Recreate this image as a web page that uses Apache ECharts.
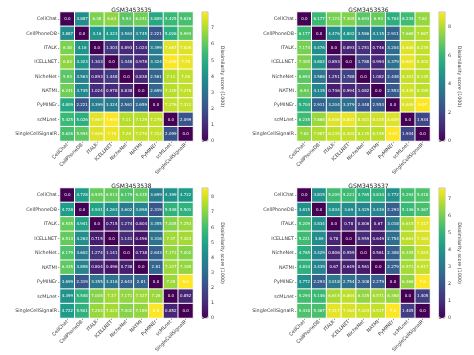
<!DOCTYPE html>
<html><head><meta charset="utf-8">
<script src="https://cdn.jsdelivr.net/npm/echarts@6/dist/echarts.min.js"></script>
<style>html,body{margin:0;padding:0;background:#fff}#c{width:474px;height:355px}</style>
</head><body><div id="c"></div>
<script>
const methods = ["CellChat","CellPhoneDB","ITALK","ICELLNET","NicheNet","NATMI","PyMINEr","scMLnet","SingleCellSignalR"];
const titles = ["GSM3453535","GSM3453536","GSM3453538","GSM3453537"];

const gsm535 = [
 [0.0,3.887,6.38,6.63,5.93,6.241,4.809,5.425,5.626],
 [3.887,0.0,4.16,4.323,3.563,3.745,2.221,5.026,5.994],
 [6.38,4.16,0.0,1.303,0.893,1.024,3.399,7.667,7.626],
 [6.63,4.323,1.303,0.0,1.448,0.978,3.324,7.999,7.78],
 [5.93,3.563,0.893,1.448,0.0,0.838,2.561,7.11,7.26],
 [6.241,3.745,1.024,0.978,0.838,0.0,2.659,7.129,7.276],
 [4.809,2.221,3.399,3.324,2.561,2.659,0.0,7.276,7.312],
 [5.425,5.026,7.667,7.999,7.11,7.129,7.276,0.0,2.099],
 [5.626,5.994,7.626,7.78,7.26,7.276,7.312,2.099,0.0]
];
const gsm536 = [
 [0.0,6.177,7.174,7.305,6.693,6.93,5.704,6.235,7.62],
 [6.177,0.0,4.476,4.802,3.586,4.115,2.911,7.668,7.987],
 [7.174,4.476,0.0,0.893,1.251,0.746,3.204,8.606,8.235],
 [7.305,4.802,0.893,0.0,1.788,0.994,3.379,8.801,8.302],
 [6.693,3.586,1.251,1.788,0.0,1.082,2.448,8.301,8.135],
 [6.93,4.115,0.746,0.994,1.082,0.0,2.553,8.435,8.195],
 [5.704,2.911,3.204,3.379,2.448,2.553,0.0,8.609,9.07],
 [6.235,7.668,8.606,8.801,8.301,8.435,8.609,0.0,1.934],
 [7.62,7.987,8.235,8.302,8.135,8.195,9.07,1.934,0.0]
];
const gsm538 = [
 [0.0,4.728,6.545,6.513,6.179,6.435,3.699,4.399,4.722],
 [4.728,0.0,4.941,4.263,3.602,3.898,2.319,5.548,5.501],
 [6.545,4.941,0.0,0.715,1.274,0.804,3.355,7.005,7.253],
 [6.513,4.263,0.715,0.0,1.141,0.496,3.316,7.37,7.423],
 [6.179,3.602,1.274,1.141,0.0,0.738,2.643,7.171,7.002],
 [6.435,3.898,0.804,0.496,0.738,0.0,2.81,7.327,7.189],
 [3.699,2.319,3.355,3.316,2.643,2.81,0.0,7.28,8.6],
 [4.399,5.548,7.005,7.37,7.171,7.327,7.28,0.0,0.852],
 [4.722,5.501,7.253,7.423,7.002,7.189,8.6,0.852,0.0]
];
const gsm537 = [
 [0.0,3.815,5.209,5.221,4.765,4.834,3.772,5.294,5.418],
 [3.815,0.0,3.834,3.69,3.429,3.439,2.293,5.146,5.367],
 [5.209,3.834,0.0,0.78,0.806,0.67,3.018,6.615,7.317],
 [5.221,3.69,0.78,0.0,0.959,0.649,2.754,6.864,7.164],
 [4.765,3.429,0.806,0.959,0.0,0.561,2.308,6.335,7.024],
 [4.834,3.439,0.67,0.649,0.561,0.0,2.279,6.571,6.917],
 [3.772,2.293,3.018,2.754,2.308,2.279,0.0,6.368,7.6],
 [5.294,5.146,6.615,6.864,6.335,6.571,6.368,0.0,1.405],
 [5.418,5.367,7.317,7.164,7.024,6.917,7.6,1.405,0.0]
];
const cbTicks535 = [0,1,2,3,4,5,6,7];
const cbTicks536 = [0,2,4,6,8];
const cbTicks538 = [0,1,2,3,4,5,6,7,8];
const cbTicks537 = [0,1,2,3,4,5,6,7];

const matrices = [gsm535, gsm536, gsm538, gsm537];
const cbTicks = [cbTicks535, cbTicks536, cbTicks538, cbTicks537];
const viridis = ['#440154','#482878','#3e4989','#31688e','#26828e','#1f9e89','#35b779','#6ece58','#b5de2b','#fde725'];
const FONT = 'DejaVu Sans';
const TXT = '#3a3a3a';

const pos = [
  {l:60, t:12, w:133, h:129},
  {l:297, t:12, w:133, h:129},
  {l:60, t:188, w:133, h:130},
  {l:297, t:188, w:133, h:130}
];

const grid=[], xAxis=[], yAxis=[], series=[], visualMap=[], title=[];
matrices.forEach((m, k) => {
  const p = pos[k];
  const mx = Math.max(...m.flat());
  const data = [];
  m.forEach((row, i) => row.forEach((v, j) => data.push([j, i, v])));
  grid.push({left:p.l, top:p.t, width:p.w, height:p.h, containLabel:false});
  xAxis.push({type:'category', gridIndex:2*k, data:methods, position:'bottom',
    axisLine:{show:false}, axisTick:{show:true, length:2, alignWithLabel:true, lineStyle:{color:TXT, width:0.5}},
    splitLine:{show:false},
    axisLabel:{rotate:45, fontSize:4.8, color:TXT, fontFamily:FONT, margin:3, interval:0}});
  yAxis.push({type:'category', gridIndex:2*k, data:methods, inverse:true,
    axisLine:{show:false}, axisTick:{show:true, length:2, alignWithLabel:true, lineStyle:{color:TXT, width:0.5}},
    splitLine:{show:false},
    axisLabel:{fontSize:4.8, color:TXT, fontFamily:FONT, margin:3, interval:0}});
  series.push({type:'heatmap', xAxisIndex:2*k, yAxisIndex:2*k, data:data,
    itemStyle:{borderColor:'#fff', borderWidth:1},
    label:{show:true, color:'#fff', fontSize:4, fontFamily:FONT,
      formatter: pr => pr.value[2] === 0 ? '0.0' : String(pr.value[2])},
    emphasis:{disabled:true}});
  const cbx = p.l + 142;
  visualMap.push({type:'continuous', seriesIndex:k, min:0, max:mx, calculable:false,
    left:cbx, top:p.t, itemWidth:6, itemHeight:p.h, text:['',''], showLabel:false,
    inRange:{color:viridis}, padding:0, hoverLink:false});
  grid.push({left:cbx, top:p.t, width:6, height:p.h, show:true, borderColor:'#555', borderWidth:0.4, backgroundColor:'transparent'});
  xAxis.push({type:'value', gridIndex:2*k+1, show:false, min:0, max:1});
  yAxis.push({type:'value', gridIndex:2*k+1, position:'right', min:0, max:mx,
    axisLine:{show:false}, splitLine:{show:false},
    axisTick:{show:true, length:2, customValues:cbTicks[k], lineStyle:{color:TXT, width:0.5}},
    axisLabel:{fontSize:4.8, color:TXT, fontFamily:FONT, margin:3, customValues:cbTicks[k]},
    name:'Dissimilarity score (1000)', nameLocation:'middle', nameRotate:-90, nameGap:12,
    nameTextStyle:{fontSize:4.8, color:TXT, fontFamily:FONT}});
  title.push({text:titles[k], left:p.l + p.w/2, top:p.t - 10, textAlign:'center',
    textStyle:{fontSize:6, fontWeight:'normal', color:'#222', fontFamily:FONT}});
});

const chart = echarts.init(document.getElementById('c'), null, {renderer:'canvas'});
chart.setOption({animation:false, backgroundColor:'#fff', title, grid, xAxis, yAxis, series, visualMap});
</script></body></html>
